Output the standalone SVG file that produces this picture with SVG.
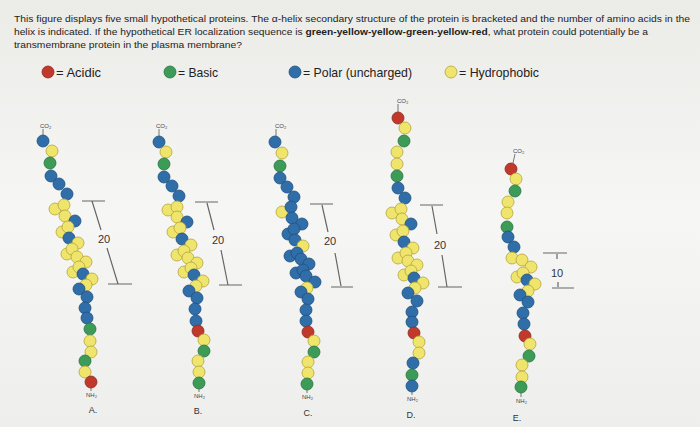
<svg xmlns="http://www.w3.org/2000/svg" width="700" height="427" viewBox="0 0 700 427">
<defs>
<linearGradient id="bg" x1="0" y1="0" x2="0" y2="1"><stop offset="0" stop-color="#ebebe8"/><stop offset="0.5" stop-color="#f6f6f4"/><stop offset="1" stop-color="#eeeeec"/></linearGradient>
</defs>
<style>
circle{stroke-width:0.8}
.b{fill:#2f6ea8;stroke:#1f4f7e}
.g{fill:#3b9b57;stroke:#2a7440}
.y{fill:#efe46c;stroke:#b5a53a}
.r{fill:#c0392b;stroke:#8e2a20}
.t{font-family:"Liberation Sans",Arial,sans-serif;fill:#222}
.s{font-family:"Liberation Sans",Arial,sans-serif;font-size:6px;fill:#444}
.br{stroke:#666;stroke-width:1.2;fill:none}
.n{font-family:"Liberation Sans",Arial,sans-serif;font-size:11px;fill:#333;text-anchor:middle}
.lb{font-family:"Liberation Sans",Arial,sans-serif;font-size:9px;fill:#333;text-anchor:middle}
.stub{stroke:#555;stroke-width:0.8}
</style>
<rect width="700" height="427" fill="url(#bg)"/>
<g id="question" class="t" font-size="9.5">
<text x="14" y="22" textLength="676" lengthAdjust="spacingAndGlyphs">This figure displays five small hypothetical proteins. The α-helix secondary structure of the protein is bracketed and the number of amino acids in the</text>
<text x="14" y="35" textLength="634" lengthAdjust="spacingAndGlyphs">helix is indicated. If the hypothetical ER localization sequence is <tspan font-weight="bold">green-yellow-yellow-green-yellow-red</tspan>, what protein could potentially be a</text>
<text x="14" y="48" textLength="228" lengthAdjust="spacingAndGlyphs">transmembrane protein in the plasma membrane?</text>
</g>
<g id="legend" class="t" font-size="13">
<circle class="r" cx="48" cy="72" r="6"/><text x="56" y="77" textLength="45" lengthAdjust="spacingAndGlyphs">= Acidic</text>
<circle class="g" cx="170" cy="72" r="6"/><text x="178" y="77" textLength="40" lengthAdjust="spacingAndGlyphs">= Basic</text>
<circle class="b" cx="295" cy="72" r="6"/><text x="303" y="77" textLength="109" lengthAdjust="spacingAndGlyphs">= Polar (uncharged)</text>
<circle class="y" cx="451" cy="72" r="6"/><text x="459" y="77" textLength="80" lengthAdjust="spacingAndGlyphs">= Hydrophobic</text>
</g>
<g id="proteinA">
<line class="stub" x1="43" y1="129" x2="43" y2="136"/><text class="s" x="40" y="128">CO₂</text>
<circle class="b" cx="43" cy="141" r="6"/><circle class="y" cx="52" cy="151" r="6"/><circle class="g" cx="50" cy="163" r="6"/><circle class="b" cx="51" cy="176" r="6"/><circle class="b" cx="59" cy="184" r="6"/><circle class="b" cx="67" cy="194" r="6"/>
<circle class="y" cx="55" cy="209" r="6"/><circle class="y" cx="64" cy="205" r="6"/><circle class="y" cx="65" cy="216" r="6"/><circle class="b" cx="75" cy="221" r="6"/><circle class="y" cx="62" cy="232" r="6"/><circle class="y" cx="68" cy="227" r="6"/><circle class="b" cx="69" cy="238" r="6"/><circle class="y" cx="78" cy="243" r="6"/><circle class="y" cx="67" cy="254" r="6"/><circle class="y" cx="72" cy="249" r="6"/><circle class="y" cx="77" cy="257" r="6"/><circle class="y" cx="86" cy="262" r="6"/><circle class="y" cx="73" cy="272" r="6"/><circle class="y" cx="79" cy="267" r="6"/><circle class="b" cx="83" cy="274" r="6"/><circle class="y" cx="92" cy="279" r="6"/><circle class="y" cx="86" cy="285" r="6"/><circle class="b" cx="79" cy="289" r="6"/>
<circle class="b" cx="87" cy="297" r="6"/><circle class="b" cx="85" cy="308" r="6"/><circle class="b" cx="87" cy="318" r="6"/><circle class="g" cx="90" cy="329" r="6"/><circle class="y" cx="90" cy="341" r="6"/><circle class="y" cx="91" cy="352" r="6"/><circle class="g" cx="85" cy="361" r="6"/><circle class="y" cx="85" cy="372" r="6"/><circle class="r" cx="91" cy="382" r="6"/>
<line class="stub" x1="91" y1="388" x2="91" y2="391"/><text class="s" x="86" y="397">NH₂</text><text class="lb" x="93" y="413">A.</text>
</g>
<g id="proteinB">
<line class="stub" x1="159" y1="129" x2="159" y2="136"/><text class="s" x="156" y="128">CO₂</text>
<circle class="b" cx="159" cy="142" r="6"/><circle class="y" cx="166" cy="152" r="6"/><circle class="g" cx="164" cy="164" r="6"/><circle class="b" cx="164" cy="177" r="6"/><circle class="b" cx="172" cy="186" r="6"/><circle class="b" cx="179" cy="196" r="6"/>
<circle class="y" cx="168" cy="210" r="6"/><circle class="y" cx="177" cy="207" r="6"/><circle class="y" cx="177" cy="217" r="6"/><circle class="b" cx="187" cy="222" r="6"/><circle class="y" cx="173" cy="232" r="6"/><circle class="y" cx="180" cy="228" r="6"/><circle class="b" cx="182" cy="239" r="6"/><circle class="y" cx="191" cy="245" r="6"/><circle class="y" cx="177" cy="255" r="6"/><circle class="y" cx="184" cy="251" r="6"/><circle class="y" cx="188" cy="258" r="6"/><circle class="y" cx="197" cy="263" r="6"/><circle class="y" cx="184" cy="272" r="6"/><circle class="y" cx="191" cy="268" r="6"/><circle class="b" cx="194" cy="275" r="6"/><circle class="y" cx="203" cy="281" r="6"/><circle class="y" cx="196" cy="286" r="6"/><circle class="b" cx="189" cy="291" r="6"/>
<circle class="b" cx="197" cy="298" r="6"/><circle class="b" cx="195" cy="309" r="6"/><circle class="b" cx="196" cy="321" r="6"/><circle class="r" cx="198" cy="331" r="6"/><circle class="y" cx="204" cy="340" r="6"/><circle class="g" cx="204" cy="351" r="6"/><circle class="y" cx="198" cy="361" r="6"/><circle class="y" cx="199" cy="372" r="6"/><circle class="g" cx="199" cy="383" r="6"/>
<line class="stub" x1="199" y1="389" x2="199" y2="392"/><text class="s" x="194" y="398">NH₂</text><text class="lb" x="198" y="414">B.</text>
</g>
<g id="proteinC">
<line class="stub" x1="276" y1="129" x2="276" y2="136"/><text class="s" x="275" y="128">CO₂</text>
<circle class="b" cx="275" cy="142" r="6"/><circle class="y" cx="282" cy="153" r="6"/><circle class="g" cx="280" cy="166" r="6"/><circle class="b" cx="280" cy="178" r="6"/><circle class="b" cx="287" cy="187" r="6"/><circle class="b" cx="294" cy="197" r="6"/>
<circle class="y" cx="282" cy="212" r="6"/><circle class="b" cx="291" cy="207" r="6"/><circle class="b" cx="292" cy="218" r="6"/><circle class="b" cx="302" cy="224" r="6"/><circle class="b" cx="288" cy="234" r="6"/><circle class="b" cx="294" cy="229" r="6"/><circle class="b" cx="295" cy="240" r="6"/><circle class="y" cx="303" cy="246" r="6"/><circle class="b" cx="290" cy="256" r="6"/><circle class="b" cx="297" cy="253" r="6"/><circle class="b" cx="301" cy="259" r="6"/><circle class="b" cx="309" cy="264" r="6"/><circle class="b" cx="296" cy="273" r="6"/><circle class="b" cx="303" cy="270" r="6"/><circle class="b" cx="306" cy="276" r="6"/><circle class="b" cx="315" cy="282" r="6"/><circle class="y" cx="307" cy="288" r="6"/><circle class="b" cx="301" cy="292" r="6"/>
<circle class="b" cx="308" cy="299" r="6"/><circle class="b" cx="306" cy="310" r="6"/><circle class="b" cx="306" cy="321" r="6"/><circle class="r" cx="308" cy="332" r="6"/><circle class="y" cx="314" cy="341" r="6"/><circle class="g" cx="314" cy="352" r="6"/><circle class="y" cx="308" cy="362" r="6"/><circle class="y" cx="308" cy="373" r="6"/><circle class="g" cx="307" cy="384" r="6"/>
<line class="stub" x1="307" y1="390" x2="307" y2="393"/><text class="s" x="302" y="399">NH₂</text><text class="lb" x="308" y="416">C.</text>
</g>
<g id="proteinD">
<line class="stub" x1="398" y1="104" x2="398" y2="112"/><text class="s" x="397" y="103">CO₂</text>
<circle class="r" cx="398" cy="118" r="6"/><circle class="y" cx="405" cy="128" r="6"/><circle class="g" cx="404" cy="141" r="6"/><circle class="y" cx="397" cy="152" r="6"/><circle class="y" cx="397" cy="164" r="6"/><circle class="g" cx="397" cy="176" r="6"/><circle class="b" cx="398" cy="188" r="6"/><circle class="b" cx="405" cy="198" r="6"/>
<circle class="y" cx="392" cy="213" r="6"/><circle class="y" cx="401" cy="209" r="6"/><circle class="y" cx="402" cy="219" r="6"/><circle class="b" cx="411" cy="224" r="6"/><circle class="y" cx="396" cy="235" r="6"/><circle class="y" cx="403" cy="231" r="6"/><circle class="b" cx="404" cy="242" r="6"/><circle class="y" cx="413" cy="248" r="6"/><circle class="y" cx="398" cy="258" r="6"/><circle class="y" cx="406" cy="253" r="6"/><circle class="y" cx="408" cy="261" r="6"/><circle class="y" cx="417" cy="265" r="6"/><circle class="y" cx="404" cy="275" r="6"/><circle class="y" cx="411" cy="271" r="6"/><circle class="b" cx="414" cy="278" r="6"/><circle class="y" cx="423" cy="283" r="6"/><circle class="y" cx="415" cy="288" r="6"/><circle class="b" cx="408" cy="293" r="6"/>
<circle class="b" cx="417" cy="301" r="6"/><circle class="b" cx="412" cy="312" r="6"/><circle class="b" cx="412" cy="322" r="6"/><circle class="r" cx="414" cy="333" r="6"/><circle class="y" cx="419" cy="342" r="6"/><circle class="y" cx="419" cy="353" r="6"/><circle class="b" cx="413" cy="363" r="6"/><circle class="g" cx="412" cy="375" r="6"/><circle class="b" cx="412" cy="386" r="6"/>
<line class="stub" x1="412" y1="392" x2="412" y2="395"/><text class="s" x="407" y="401">NH₂</text><text class="lb" x="411" y="418">D.</text>
</g>
<g id="proteinE">
<line class="stub" x1="515" y1="154" x2="513" y2="163"/><text class="s" x="513" y="153">CO₂</text>
<circle class="r" cx="511" cy="169" r="6"/><circle class="y" cx="516" cy="179" r="6"/><circle class="g" cx="515" cy="191" r="6"/><circle class="y" cx="508" cy="202" r="6"/><circle class="y" cx="507" cy="213" r="6"/><circle class="g" cx="507" cy="227" r="6"/><circle class="b" cx="508" cy="237" r="6"/><circle class="b" cx="514" cy="247" r="6"/>
<circle class="y" cx="512" cy="258" r="6"/><circle class="y" cx="522" cy="260" r="6"/><circle class="y" cx="531" cy="267" r="6"/><circle class="y" cx="517" cy="277" r="6"/><circle class="y" cx="523" cy="273" r="6"/><circle class="b" cx="527" cy="280" r="6"/><circle class="y" cx="535" cy="284" r="6"/><circle class="y" cx="528" cy="291" r="6"/><circle class="b" cx="520" cy="295" r="6"/><circle class="b" cx="528" cy="302" r="6"/>
<circle class="b" cx="523" cy="313" r="6"/><circle class="b" cx="524" cy="324" r="6"/><circle class="r" cx="525" cy="336" r="6"/><circle class="y" cx="530" cy="344" r="6"/><circle class="g" cx="529" cy="356" r="6"/><circle class="y" cx="522" cy="365" r="6"/><circle class="y" cx="522" cy="377" r="6"/><circle class="g" cx="521" cy="387" r="6"/>
<line class="stub" x1="521" y1="393" x2="521" y2="397"/><text class="s" x="516" y="403">NH₂</text><text class="lb" x="517" y="421">E.</text>
</g>
<g id="brackets">
<path class="br" d="M82 201H105M92 201L101 230M107 248L118 284M108 284H132"/><text class="n" x="104" y="243">20</text>
<path class="br" d="M195 202H218M207 203L214 230M221 250L228 285M219 285H242"/><text class="n" x="218" y="244">20</text>
<path class="br" d="M310 204H333M322 205L328 232M335 253L341 286M331 287H353"/><text class="n" x="330" y="245">20</text>
<path class="br" d="M420 205H443M432 206L437 234M442 255L447 287M438 287H462"/><text class="n" x="440" y="249">20</text>
<path class="br" d="M543 253H567M557 254V259M558 282V287M552 288H574"/><text class="n" x="557" y="277">10</text>
</g>
</svg>
